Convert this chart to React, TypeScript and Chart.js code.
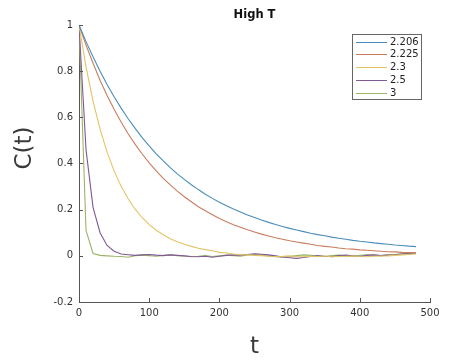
import React, { useEffect, useRef } from "react";
import { Chart, registerables } from "chart.js";

Chart.register(...registerables);

const times = [0, 10, 20, 30, 40, 50, 60, 70, 80, 90, 100, 110, 120, 130, 140, 150, 160, 170, 180, 190, 200, 210, 220, 230, 240, 250, 260, 270, 280, 290, 300, 310, 320, 330, 340, 350, 360, 370, 380, 390, 400, 410, 420, 430, 440, 450, 460, 470, 480];

const seriesLabels = ["2.206", "2.225", "2.3", "2.5", "3"];

const c2206 = [1.0, 0.928, 0.862, 0.8, 0.742, 0.689, 0.64, 0.594, 0.552, 0.512, 0.476, 0.442, 0.411, 0.382, 0.355, 0.331, 0.308, 0.287, 0.267, 0.249, 0.232, 0.217, 0.203, 0.19, 0.177, 0.166, 0.155, 0.145, 0.136, 0.127, 0.119, 0.112, 0.105, 0.098, 0.092, 0.087, 0.081, 0.076, 0.072, 0.067, 0.063, 0.06, 0.056, 0.053, 0.05, 0.047, 0.045, 0.042, 0.04];

const c2225 = [1.0, 0.913, 0.834, 0.761, 0.695, 0.635, 0.58, 0.529, 0.483, 0.441, 0.403, 0.368, 0.336, 0.307, 0.28, 0.256, 0.234, 0.213, 0.195, 0.178, 0.162, 0.148, 0.135, 0.124, 0.113, 0.103, 0.094, 0.086, 0.078, 0.072, 0.065, 0.06, 0.055, 0.05, 0.045, 0.041, 0.038, 0.034, 0.031, 0.029, 0.026, 0.024, 0.022, 0.02, 0.018, 0.017, 0.015, 0.014, 0.013];

const c23 = [1.0, 0.819, 0.67, 0.549, 0.449, 0.368, 0.301, 0.247, 0.202, 0.165, 0.135, 0.111, 0.091, 0.074, 0.061, 0.05, 0.041, 0.033, 0.027, 0.022, 0.015, 0.012, 0.008, 0.005, 0.004, 0.002, 0.001, -0.002, -0.003, -0.002, 0.0, -0.003, -0.004, -0.002, -0.003, -0.001, -0.004, -0.003, -0.002, -0.001, -0.003, -0.004, -0.002, -0.001, 0.0, 0.002, 0.004, 0.006, 0.008];

const c25 = [1.0, 0.46, 0.21, 0.1, 0.045, 0.02, 0.008, 0.005, 0.002, 0.004, 0.006, 0.003, 0.001, 0.004, 0.002, 0.0, -0.003, -0.004, -0.002, -0.006, -0.002, 0.002, 0.004, 0.003, 0.006, 0.009, 0.007, 0.004, 0.0, -0.005, -0.008, -0.011, -0.007, -0.003, 0.001, -0.002, -0.004, 0.001, 0.003, 0.0, -0.003, 0.002, 0.004, 0.001, 0.003, 0.005, 0.008, 0.011, 0.012];

const c3 = [1.0, 0.11, 0.01, 0.002, 0.0, -0.002, -0.003, -0.006, 0.001, 0.003, 0.001, -0.002, 0.002, 0.004, 0.001, -0.001, -0.004, -0.002, 0.001, -0.003, 0.0, 0.003, 0.001, -0.002, 0.004, 0.006, 0.003, 0.0, -0.004, -0.006, -0.003, 0.001, 0.004, 0.002, -0.001, -0.003, 0.001, 0.003, 0.0, -0.002, 0.002, 0.005, 0.003, 0.001, 0.004, 0.006, 0.009, 0.01, 0.011];

const seriesValues = [c2206, c2225, c23, c25, c3];
const seriesColors = ["#4a8dbb", "#c97d5e", "#e3c464", "#7f5a94", "#9bb466"];

const xTicks = [0, 100, 200, 300, 400, 500];
const yTicks = [-0.2, 0, 0.2, 0.4, 0.6, 0.8, 1];

const FONT = "'DejaVu Sans', sans-serif";

const decorPlugin = {
  id: "decor",
  afterDraw(chart: any) {
    const ctx = chart.ctx;
    const { left, right, top, bottom } = chart.chartArea;
    const xs = chart.scales.x;
    const ys = chart.scales.y;
    ctx.save();
    // inward ticks
    ctx.strokeStyle = "#555";
    ctx.lineWidth = 1;
    ctx.beginPath();
    xTicks.forEach((v) => {
      const px = Math.round(xs.getPixelForValue(v)) + 0.5;
      ctx.moveTo(px, bottom);
      ctx.lineTo(px, bottom - 4);
    });
    yTicks.forEach((v) => {
      const py = Math.round(ys.getPixelForValue(v)) + 0.5;
      ctx.moveTo(left, py);
      ctx.lineTo(left + 4, py);
    });
    ctx.stroke();

    // title
    ctx.fillStyle = "#111";
    ctx.font = `bold 11.5px ${FONT}`;
    ctx.textAlign = "center";
    ctx.textBaseline = "middle";
    ctx.fillText("High T", (left + right) / 2, 15);

    // axis titles
    ctx.fillStyle = "#3a3a3a";
    ctx.font = `23px ${FONT}`;
    ctx.textAlign = "center";
    ctx.textBaseline = "alphabetic";
    ctx.fillText("t", (left + right) / 2, 353);
    ctx.save();
    ctx.translate(31, 148);
    ctx.rotate(-Math.PI / 2);
    ctx.textBaseline = "alphabetic";
    ctx.fillText("C(t)", 0, 0);
    ctx.restore();

    // legend
    const bx = 352.5, by = 34.5, bw = 69, bh = 65;
    ctx.fillStyle = "#fff";
    ctx.fillRect(bx, by, bw, bh);
    ctx.strokeStyle = "#666";
    ctx.strokeRect(bx, by, bw, bh);
    ctx.font = `10px ${FONT}`;
    ctx.textAlign = "left";
    ctx.textBaseline = "middle";
    seriesLabels.forEach((lab, i) => {
      const yy = 41.7 + i * 12.7;
      ctx.strokeStyle = seriesColors[i];
      ctx.beginPath();
      ctx.moveTo(356, Math.round(yy) + 0.5);
      ctx.lineTo(387, Math.round(yy) + 0.5);
      ctx.stroke();
      ctx.fillStyle = "#222";
      ctx.fillText(lab, 390, yy + 0.5);
    });
    ctx.restore();
  },
};

export default function App() {
  const ref = useRef<HTMLCanvasElement>(null);
  useEffect(() => {
    document.body.style.margin = "0";
    const canvas = ref.current!;
    const chart = new Chart(canvas, {
      type: "line",
      data: {
        datasets: seriesLabels.map((lab, i) => ({
          label: lab,
          data: times.map((t, j) => ({ x: t, y: seriesValues[i][j] })),
          borderColor: seriesColors[i],
          backgroundColor: seriesColors[i],
          borderWidth: 1.1,
          pointRadius: 0,
          tension: 0,
          fill: false,
        })),
      },
      options: {
        animation: false,
        responsive: false,
        maintainAspectRatio: false,
        layout: { padding: { top: 25, right: 44, bottom: 0, left: 0 } },
        plugins: {
          legend: { display: false },
          title: { display: false },
          tooltip: { enabled: false },
        },
        scales: {
          x: {
            type: "linear",
            min: 0,
            max: 500,
            ticks: {
              stepSize: 100,
              color: "#333",
              font: { family: FONT, size: 10 },
              padding: 5,
              maxRotation: 0,
            },
            grid: { display: false, drawTicks: false },
            border: { display: true, color: "#555", width: 1 },
            afterFit: (s: any) => {
              s.height = 62;
            },
          },
          y: {
            type: "linear",
            min: -0.2,
            max: 1,
            ticks: {
              stepSize: 0.2,
              color: "#333",
              font: { family: FONT, size: 10 },
              padding: 6,
              callback: (v: any) => String(Number(Number(v).toFixed(1))),
            },
            grid: { display: false, drawTicks: false },
            border: { display: true, color: "#555", width: 1 },
            afterFit: (s: any) => {
              s.width = 79;
            },
          },
        },
      },
      plugins: [decorPlugin],
    });
    return () => chart.destroy();
  }, []);
  return (
    <div style={{ width: 474, height: 364 }}>
      <canvas ref={ref} width={474} height={364} style={{ display: "block" }} />
    </div>
  );
}
